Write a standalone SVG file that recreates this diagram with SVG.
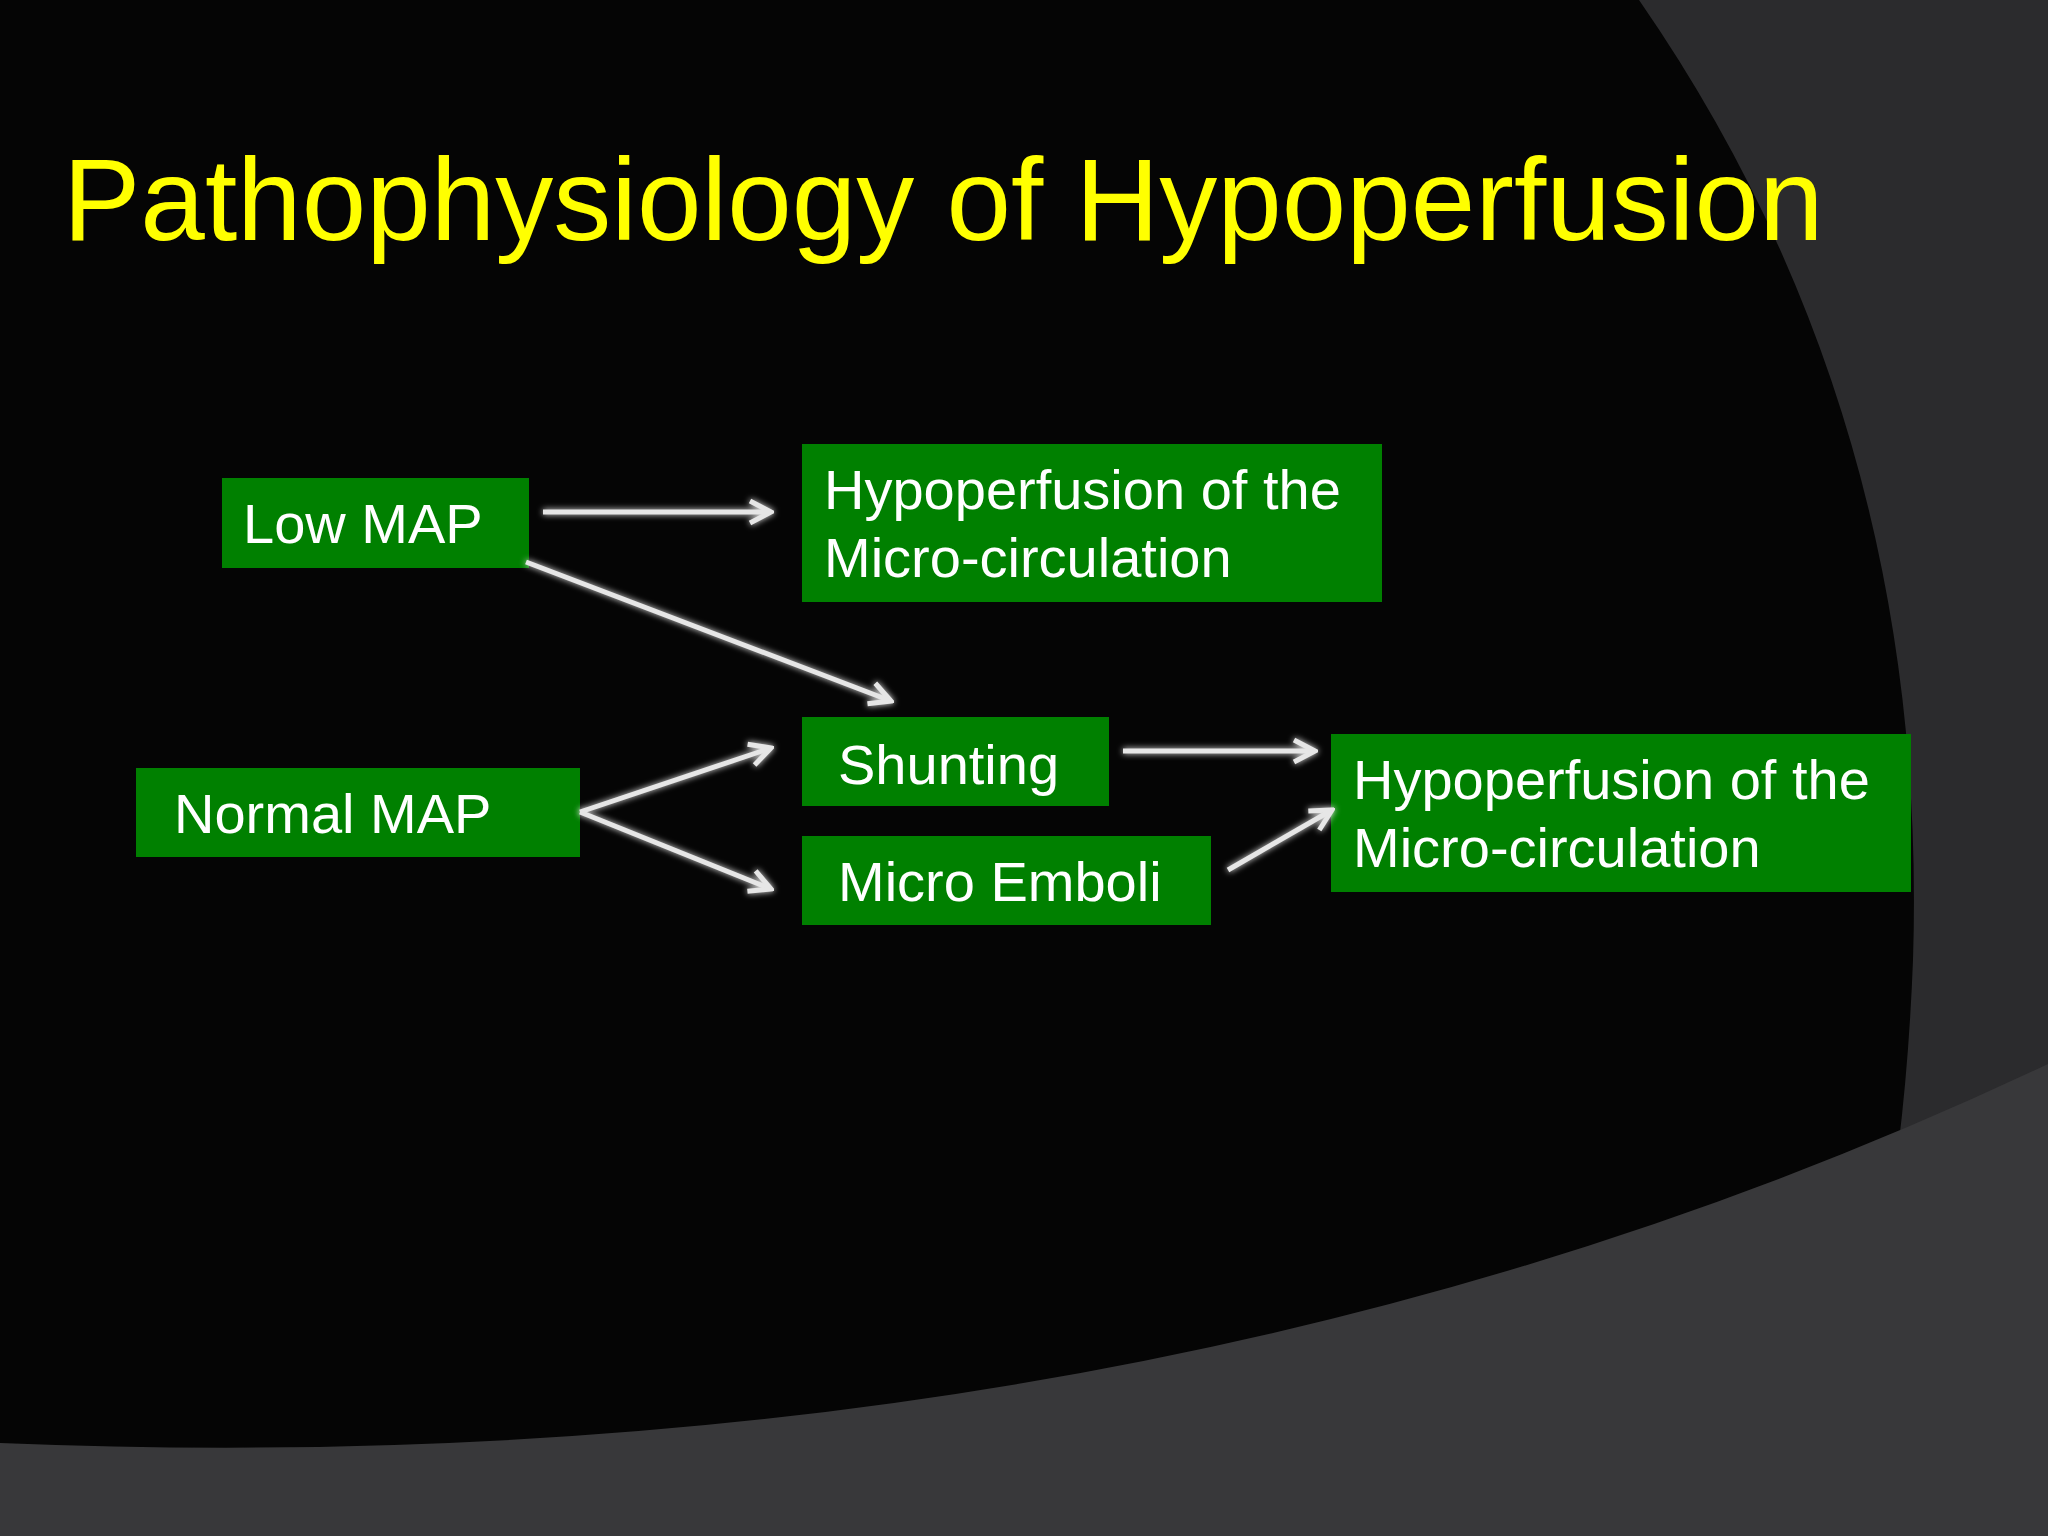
<svg xmlns="http://www.w3.org/2000/svg" width="2048" height="1536" viewBox="0 0 2048 1536">
<defs>
<style>
.box{fill:#008000}
.t{font-family:"Liberation Sans",Arial,sans-serif;font-size:56px;fill:#ffffff}
.c{stroke:#e6e6e6;stroke-width:5;fill:none;marker-end:url(#ah);filter:url(#glow)}
</style>
<marker id="ah" viewBox="0 0 30 30" refX="27" refY="15" markerWidth="30" markerHeight="30" orient="auto" markerUnits="userSpaceOnUse">
<path d="M6,4 L27,15 L6,26" fill="none" stroke="#e6e6e6" stroke-width="5" stroke-linejoin="miter"/>
</marker>
<filter id="glow" filterUnits="userSpaceOnUse" x="0" y="0" width="2048" height="1536">
<feGaussianBlur in="SourceGraphic" stdDeviation="3" result="b"/>
<feMerge><feMergeNode in="b"/><feMergeNode in="SourceGraphic"/></feMerge>
</filter>
</defs>
<rect width="2048" height="1536" fill="#050505"/>
<path d="M1639,0 Q1930,420 1913,960 Q1900,1300 1800,1536 L2048,1536 L2048,0 Z" fill="#2b2b2d"/>
<path d="M0,1443 Q1150,1490 2048,1064 L2048,1536 L0,1536 Z" fill="#38383a"/>
<text x="63" y="240" font-family="'Liberation Sans',Arial,sans-serif" font-size="116" fill="#ffff00">Pathophysiology of Hypoperfusion</text>
<g id="n-lowmap"><rect class="box" x="222" y="478" width="307" height="90"/><text class="t" x="243" y="543">Low MAP</text></g>
<g id="n-hypo1"><rect class="box" x="802" y="444" width="580" height="158"/><text class="t" x="824" y="509">Hypoperfusion of the</text><text class="t" x="824" y="577">Micro-circulation</text></g>
<g id="n-shunting"><rect class="box" x="802" y="717" width="307" height="89"/><text class="t" x="838" y="784">Shunting</text></g>
<g id="n-normalmap"><rect class="box" x="136" y="768" width="444" height="89"/><text class="t" x="174" y="833">Normal MAP</text></g>
<g id="n-emboli"><rect class="box" x="802" y="836" width="409" height="89"/><text class="t" x="838" y="901">Micro Emboli</text></g>
<g id="n-hypo2"><rect class="box" x="1331" y="734" width="580" height="158"/><text class="t" x="1353" y="799">Hypoperfusion of the</text><text class="t" x="1353" y="867">Micro-circulation</text></g>
<g id="connectors">
<line class="c" x1="543" y1="512" x2="771" y2="512"/>
<line class="c" x1="526" y1="562" x2="891" y2="701"/>
<line class="c" x1="580" y1="812" x2="771" y2="748"/>
<line class="c" x1="580" y1="812" x2="771" y2="889"/>
<line class="c" x1="1123" y1="751" x2="1315" y2="751"/>
<line class="c" x1="1228" y1="870" x2="1332" y2="810"/>
</g>
</svg>
